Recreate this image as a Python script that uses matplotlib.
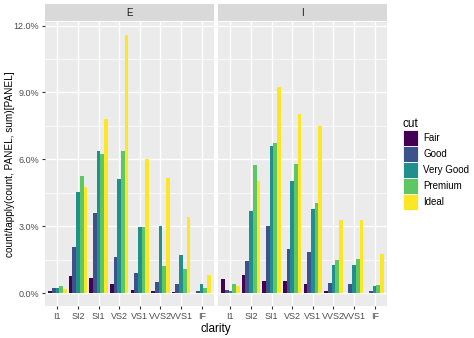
import numpy as np
import matplotlib.pyplot as plt
from matplotlib.ticker import PercentFormatter, MultipleLocator
from matplotlib.patches import Patch

plt.rcParams['font.family'] = ['Liberation Sans', 'DejaVu Sans']

clarity = ['I1', 'SI2', 'SI1', 'VS2', 'VS1', 'VVS2', 'VVS1', 'IF']
cuts = ['Fair', 'Good', 'Very Good', 'Premium', 'Ideal']
colors = ['#440154', '#3B528B', '#21908C', '#5DC863', '#FDE725']

# share of each facet total, in percent (rows: cut, cols: clarity)
color_E = [
    [0.09, 0.78, 0.66, 0.43, 0.12, 0.11, 0.03, 0.00],
    [0.23, 2.06, 3.60, 1.62, 0.90, 0.51, 0.43, 0.09],
    [0.22, 4.53, 6.36, 5.10, 2.96, 3.02, 1.72, 0.43],
    [0.30, 5.27, 6.24, 6.39, 2.96, 1.22, 1.06, 0.25],
    [0.18, 4.78, 7.81, 11.58, 6.00, 5.16, 3.41, 0.80],
]
color_I = [
    [0.61, 0.80, 0.52, 0.55, 0.41, 0.10, 0.02, 0.00],
    [0.14, 1.45, 3.02, 1.98, 1.85, 0.46, 0.40, 0.09],
    [0.10, 3.67, 6.60, 5.01, 3.77, 1.27, 1.24, 0.33],
    [0.42, 5.74, 6.72, 5.77, 4.05, 1.48, 1.51, 0.38],
    [0.30, 5.03, 9.26, 8.05, 7.50, 3.28, 3.28, 1.76],
]
panels = [('E', color_E), ('I', color_I)]

fig = plt.figure(figsize=(4.74, 3.38), dpi=100)
W, H = 474, 338
ymax = max(max(max(r) for r in d) for _, d in panels) / 100
pad = ymax * 0.05
x = np.arange(1, len(clarity) + 1)
bw = 0.9 / len(cuts)

lefts = [45, 218]
for i, (name, data) in enumerate(panels):
    ax = fig.add_axes([lefts[i] / W, 32 / H, 169 / W, 284 / H])
    ax.set_facecolor('#EBEBEB')
    for j, vals in enumerate(data):
        off = -0.45 + bw * (j + 0.5)
        ax.bar(x + off, np.array(vals) / 100, width=bw, color=colors[j], zorder=3)
    ax.set_xlim(0.4, len(clarity) + 0.6)
    ax.set_ylim(-pad, ymax + pad)
    ax.yaxis.set_major_locator(MultipleLocator(0.03))
    ax.yaxis.set_minor_locator(MultipleLocator(0.015))
    ax.yaxis.set_major_formatter(PercentFormatter(1.0, decimals=1))
    ax.set_xticks(x)
    ax.set_xticklabels(clarity)
    ax.grid(which='major', color='white', lw=1.0, zorder=1)
    ax.grid(which='minor', axis='y', color='white', lw=0.5, zorder=1)
    for s in ax.spines.values():
        s.set_visible(False)
    ax.tick_params(which='major', length=2.5, color='#333333', labelsize=6.5, labelcolor='#4D4D4D', pad=1.5)
    ax.tick_params(which='minor', length=0)
    if i > 0:
        ax.tick_params(axis='y', labelleft=False, length=0)
    # facet strip
    sax = fig.add_axes([lefts[i] / W, 317 / H, 169 / W, 17 / H])
    sax.set_facecolor('#D9D9D9')
    sax.set_xticks([])
    sax.set_yticks([])
    for s in sax.spines.values():
        s.set_visible(False)
    sax.text(0.5, 0.5, name, ha='center', va='center', fontsize=7, color='#1A1A1A', transform=sax.transAxes)

fig.text(10 / W, (32 + 142) / H, 'count/tapply(count, PANEL, sum)[PANEL]', rotation=90,
         ha='center', va='center', fontsize=7.2)
fig.text((45 + 387) / 2 / W, 3 / H, 'clarity', ha='center', va='bottom', fontsize=8.5)

handles = [Patch(facecolor=c, edgecolor='white', lw=0.6) for c in colors]
leg = fig.legend(handles, cuts, title='cut', loc='upper left', bbox_to_anchor=(399 / W, 224 / H),
                 frameon=False, fontsize=7, title_fontsize=8.5, handlelength=1.6, handleheight=2.15,
                 handletextpad=0.5, labelspacing=0.0, borderaxespad=0)
leg._legend_box.align = 'left'

fig.savefig('out.png', dpi=100)
